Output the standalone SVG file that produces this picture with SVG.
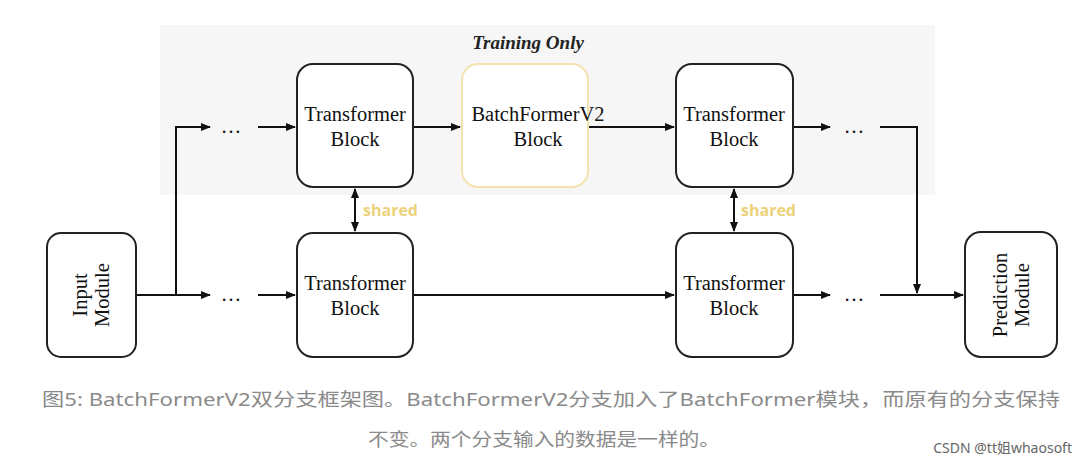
<svg xmlns="http://www.w3.org/2000/svg" width="1087" height="467" viewBox="0 0 1087 467">
<style>
.box{fill:#fff;stroke:#222;stroke-width:2}
.t{font-family:"Liberation Serif",serif;font-size:20.5px;fill:#111;text-anchor:middle}
.ln{fill:none;stroke:#111;stroke-width:2}
.sh{font-family:"Open Sans",sans-serif;font-size:16px;fill:#ecd27a;font-weight:bold}
.cap{font-family:"Noto Sans","Noto Sans CJK SC",sans-serif;font-size:18px;fill:#8a8a8a}
</style>
<defs>
<marker id="a" viewBox="0 0 10 10" refX="9" refY="5" markerWidth="5" markerHeight="5" orient="auto-start-reverse"><path d="M0,1 L10,5 L0,9 z" fill="#111"/></marker>
</defs>
<rect width="1087" height="467" fill="#fff"/>
<rect x="160" y="25" width="775" height="170" fill="#f6f6f6"/>
<text x="528" y="49" font-family="Liberation Serif,serif" font-style="italic" font-weight="bold" font-size="19" fill="#222" text-anchor="middle">Training Only</text>
<g id="connectors">
<path class="ln" d="M136,295 H176 V127 H210" marker-end="url(#a)"/>
<path class="ln" d="M176,295 H210" marker-end="url(#a)"/>
<path class="ln" d="M258,127 H295" marker-end="url(#a)"/>
<path class="ln" d="M258,295 H295" marker-end="url(#a)"/>
<path class="ln" d="M413,127 H460" marker-end="url(#a)"/>
<path class="ln" d="M588,127 H674" marker-end="url(#a)"/>
<path class="ln" d="M793,127 H830" marker-end="url(#a)"/>
<path class="ln" d="M880,127 H917 V293" marker-end="url(#a)"/>
<path class="ln" d="M413,295 H674" marker-end="url(#a)"/>
<path class="ln" d="M793,295 H830" marker-end="url(#a)"/>
<path class="ln" d="M880,295 H963" marker-end="url(#a)"/>
<path class="ln" d="M355,189 V231" marker-start="url(#a)" marker-end="url(#a)"/>
<path class="ln" d="M734,189 V231" marker-start="url(#a)" marker-end="url(#a)"/>
<text x="231" y="133" class="t">…</text>
<text x="231" y="301" class="t">…</text>
<text x="854" y="133" class="t">…</text>
<text x="854" y="301" class="t">…</text>
<text x="363" y="216" class="sh">shared</text>
<text x="741" y="216" class="sh">shared</text>
</g>
<g id="input"><rect class="box" x="47" y="233" width="89" height="124" rx="14"/>
<text class="t" transform="translate(91,295) rotate(-90)"><tspan x="0" y="-4">Input</tspan><tspan x="0" y="18">Module</tspan></text></g>
<g id="tb1"><rect class="box" x="297" y="64" width="116" height="123" rx="16"/><text class="t" x="355" y="121">Transformer</text><text class="t" x="355" y="146">Block</text></g>
<g id="bf"><rect x="462" y="64" width="126" height="123" rx="16" fill="#fff" stroke="#f3e3b0" stroke-width="2"/><text class="t" x="538" y="121">BatchFormerV2</text><text class="t" x="538" y="146">Block</text></g>
<g id="tb2"><rect class="box" x="676" y="64" width="117" height="123" rx="16"/><text class="t" x="734" y="121">Transformer</text><text class="t" x="734" y="146">Block</text></g>
<g id="tb3"><rect class="box" x="297" y="233" width="116" height="124" rx="16"/><text class="t" x="355" y="290">Transformer</text><text class="t" x="355" y="315">Block</text></g>
<g id="tb4"><rect class="box" x="676" y="233" width="117" height="124" rx="16"/><text class="t" x="734" y="290">Transformer</text><text class="t" x="734" y="315">Block</text></g>
<g id="pred"><rect class="box" x="965" y="232" width="92" height="125" rx="16"/>
<text class="t" transform="translate(1011,295) rotate(-90)"><tspan x="0" y="-4">Prediction</tspan><tspan x="0" y="18">Module</tspan></text></g>
<text class="cap" x="42" y="406" textLength="1018" lengthAdjust="spacingAndGlyphs">图5: BatchFormerV2双分支框架图。BatchFormerV2分支加入了BatchFormer模块，而原有的分支保持</text>
<text class="cap" x="368" y="446" textLength="352" lengthAdjust="spacingAndGlyphs">不变。两个分支输入的数据是一样的。</text>
<text x="1072" y="453" font-family="Noto Sans,Noto Sans CJK SC,sans-serif" font-size="14" fill="#666" text-anchor="end">CSDN @tt姐whaosoft</text>
</svg>
